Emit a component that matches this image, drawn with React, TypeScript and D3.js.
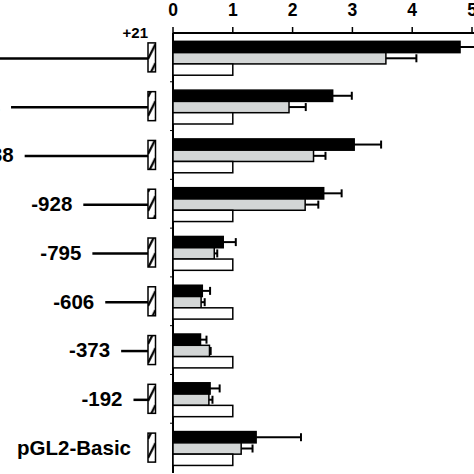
import React from 'react'
import * as d3 from 'd3'

// promoter constructs, top to bottom
const constructs = ['-2488', '-1988', '-1788', '-928', '-795', '-606', '-373', '-192', 'pGL2-Basic']
// 5' end of each construct in bp (null = empty vector)
const startBp: (number | null)[] = [-2488, -1988, -1788, -928, -795, -606, -373, -192, null]
const endBp = 21

const series = ['treatA', 'treatB', 'control']
const seriesFill: Record<string, string> = { treatA: '#000000', treatB: '#d3d6d6', control: '#ffffff' }

// relative luciferase activity
const treatA = [4.8, 2.67, 3.03, 2.52, 0.84, 0.49, 0.46, 0.62, 1.39]
const treatAErr = [0.35, 0.32, 0.45, 0.3, 0.21, 0.13, 0.1, 0.16, 0.75]
const treatB = [3.56, 1.94, 2.35, 2.21, 0.69, 0.47, 0.61, 0.6, 1.14]
const treatBErr = [0.51, 0.28, 0.2, 0.22, 0.05, 0.06, 0.02, 0.06, 0.19]
const control = [1, 1, 1, 1, 1, 1, 1, 1, 1]

const xTicks = [0, 1, 2, 3, 4, 5]

const W = 474
const H = 474

export default function App() {
  const x = d3.scaleLinear().domain([0, 5]).range([173, 472])
  const y = d3.scaleBand<string>().domain(constructs).range([33, 472])
  const ySub = d3.scaleBand<string>().domain(series).range([0, y.bandwidth()]).paddingOuter(0.66).align(0.56)
  const bp = d3.scaleLinear().domain([-928, endBp]).range([83.3, 148])

  const values: Record<string, number[]> = { treatA, treatB, control }
  const errs: Record<string, (number | null)[]> = { treatA: treatAErr, treatB: treatBErr, control: control.map(() => null) }

  const font = 'Arial, "Liberation Sans", sans-serif'
  const boxW = 7.5
  const boxH = 29
  const hp = 19 // hatch period

  return (
    <svg width={W} height={H} style={{ position: 'absolute', left: 0, top: 0, background: '#fff' }} fontFamily={font}>
      <defs>
        <pattern id="hatch" patternUnits="userSpaceOnUse" x={bp(endBp)} y={4} width={boxW} height={hp}>
          <rect width={boxW} height={hp} fill="#fff" />
          <path d={`M0,${hp - 2} L${boxW},2 M-2,1 L0,-1 M${boxW},${hp + 1} L${boxW + 2},${hp - 1}`} stroke="#000" strokeWidth={2.2} />
        </pattern>
      </defs>

      {/* top value axis */}
      <line x1={x(0)} x2={x(5) + 2} y1={33} y2={33} stroke="#000" strokeWidth={2} />
      {xTicks.map(t => (
        <g key={t}>
          <line x1={x(t)} x2={x(t)} y1={33} y2={27} stroke="#000" strokeWidth={1.5} />
          <text x={x(t)} y={16} textAnchor="middle" fontSize={17.5} fontWeight="bold">{t}</text>
        </g>
      ))}
      <text x={bp(endBp)} y={38} textAnchor="end" fontSize={15} fontWeight="bold">+21</text>

      {/* category axis */}
      <line x1={x(0)} x2={x(0)} y1={33} y2={473} stroke="#000" strokeWidth={2} />
      {constructs.slice(1).map(c => (
        <line key={c} x1={x(0) - 3} x2={x(0)} y1={y(c)!} y2={y(c)!} stroke="#000" strokeWidth={1} />
      ))}

      {/* bars with error bars */}
      {constructs.map((c, i) => (
        <g key={c} transform={`translate(0,${y(c)})`}>
          {series.map(s => {
            const v = values[s][i]
            const e = errs[s][i]
            const by = ySub(s)!
            const bh = ySub.bandwidth()
            const cy = by + bh / 2
            return (
              <g key={s}>
                <rect x={x(0)} y={by} width={x(v) - x(0)} height={bh} fill={seriesFill[s]} stroke="#000" strokeWidth={1.5} />
                {e != null && (
                  <g stroke="#000" strokeWidth={2}>
                    <line x1={x(v)} x2={x(v + e)} y1={cy} y2={cy} />
                    <line x1={x(v + e)} x2={x(v + e)} y1={cy - 4} y2={cy + 4} />
                  </g>
                )}
              </g>
            )
          })}
        </g>
      ))}

      {/* construct diagrams */}
      {constructs.map((c, i) => {
        const cy = y(c)! + y.bandwidth() / 2
        const s = startBp[i]
        const lx = s == null ? bp(endBp) - 17 : bp(s) - 11
        return (
          <g key={c}>
            {s != null && (
              <line x1={bp(s)} x2={bp(endBp)} y1={cy + 1} y2={cy + 1} stroke="#000" strokeWidth={2.5} />
            )}
            <rect x={bp(endBp)} y={cy - boxH / 2} width={boxW} height={boxH} fill="url(#hatch)" stroke="#000" strokeWidth={1.5} />
            <text x={lx} y={cy} dy="0.36em" textAnchor="end" fontSize={20.5} fontWeight="bold">{c}</text>
          </g>
        )
      })}
    </svg>
  )
}
